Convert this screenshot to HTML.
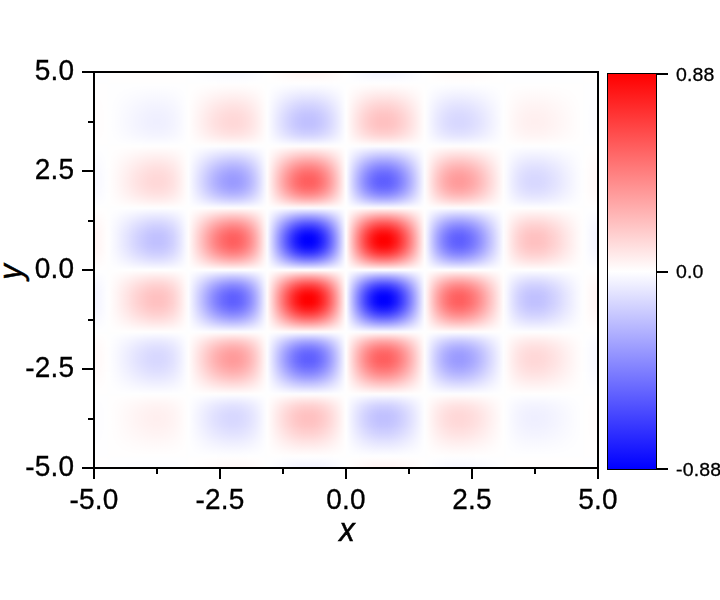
<!DOCTYPE html>
<html><head><meta charset="utf-8">
<style>
html,body{margin:0;padding:0;background:#fff;}
body{width:720px;height:600px;position:relative;overflow:hidden;font-family:"Liberation Sans",sans-serif;color:#000;}
.xl,.yl{-webkit-text-stroke:0.3px #000;}
.cl{-webkit-text-stroke:0.3px #000;}
#xt,#yt{-webkit-text-stroke:0.5px #000;}
#heat{position:absolute;left:94px;top:72px;width:504px;height:396px;isolation:isolate;background:#000;overflow:hidden;}
#heat>div{position:absolute;left:0;top:0;width:100%;height:100%;}
.grp{isolation:isolate;mix-blend-mode:lighten;}
.grp>div{position:absolute;left:0;top:0;width:100%;height:100%;}
.mul{mix-blend-mode:multiply;}
.dif{background:#fff;mix-blend-mode:difference;}
#frame{position:absolute;left:93px;top:71px;width:506px;height:398px;border:2px solid #000;box-sizing:border-box;}
.t{position:absolute;background:#000;}
.xl{position:absolute;width:100px;text-align:center;font-size:28px;line-height:30px;white-space:nowrap;transform:scaleY(1.05);letter-spacing:0.2px;}
.yl{position:absolute;width:76px;text-align:right;font-size:28px;line-height:30px;white-space:nowrap;transform:scaleY(1.05);letter-spacing:0.2px;}
.h{position:relative;top:1.2px;}
#cb{position:absolute;left:607px;top:73px;width:50px;height:397px;border:1px solid #000;box-sizing:border-box;background:linear-gradient(to bottom,#f00,#fff,#00f);}
.cl{position:absolute;font-size:19.5px;line-height:24px;white-space:nowrap;transform:scaleY(0.96);transform-origin:0 50%;letter-spacing:0.15px;}
.ct{position:absolute;left:657px;width:11px;height:2px;background:#000;}
#xt{position:absolute;left:317px;top:512px;width:60px;text-align:center;font-size:31px;font-style:italic;line-height:36px;transform:scaleY(1.08);}
#yt{position:absolute;left:-19px;top:253.5px;width:60px;text-align:center;font-size:31px;font-style:italic;line-height:36px;transform:rotate(-90deg) scaleY(1.08);}
</style></head><body>
<div id="heat">
<div class="grp"><div style="background:linear-gradient(to right,rgb(0,12,12) 0.00%,rgb(0,10,10) 0.62%,rgb(0,8,8) 1.25%,rgb(0,5,5) 1.88%,rgb(0,2,2) 2.50%,rgb(2,2,0) 3.12%,rgb(6,6,0) 3.75%,rgb(10,10,0) 4.38%,rgb(15,15,0) 5.00%,rgb(20,20,0) 5.62%,rgb(25,25,0) 6.25%,rgb(30,30,0) 6.88%,rgb(36,36,0) 7.50%,rgb(41,41,0) 8.12%,rgb(46,46,0) 8.75%,rgb(50,50,0) 9.38%,rgb(54,54,0) 10.00%,rgb(58,58,0) 10.62%,rgb(60,60,0) 11.25%,rgb(62,62,0) 11.88%,rgb(62,62,0) 12.50%,rgb(62,62,0) 13.12%,rgb(60,60,0) 13.75%,rgb(57,57,0) 14.38%,rgb(52,52,0) 15.00%,rgb(47,47,0) 15.62%,rgb(39,39,0) 16.25%,rgb(30,30,0) 16.88%,rgb(20,20,0) 17.50%,rgb(9,9,0) 18.12%,rgb(0,3,3) 18.75%,rgb(0,17,17) 19.38%,rgb(0,31,31) 20.00%,rgb(0,46,46) 20.62%,rgb(0,60,60) 21.25%,rgb(0,75,75) 21.88%,rgb(0,90,90) 22.50%,rgb(0,104,104) 23.12%,rgb(0,117,117) 23.75%,rgb(0,129,129) 24.38%,rgb(0,139,139) 25.00%,rgb(0,148,148) 25.62%,rgb(0,154,154) 26.25%,rgb(0,159,159) 26.88%,rgb(0,160,160) 27.50%,rgb(0,159,159) 28.12%,rgb(0,155,155) 28.75%,rgb(0,148,148) 29.38%,rgb(0,138,138) 30.00%,rgb(0,125,125) 30.62%,rgb(0,109,109) 31.25%,rgb(0,91,91) 31.88%,rgb(0,70,70) 32.50%,rgb(0,47,47) 33.12%,rgb(0,23,23) 33.75%,rgb(4,4,0) 34.38%,rgb(31,31,0) 35.00%,rgb(58,58,0) 35.62%,rgb(86,86,0) 36.25%,rgb(113,113,0) 36.88%,rgb(139,139,0) 37.50%,rgb(164,164,0) 38.12%,rgb(186,186,0) 38.75%,rgb(206,206,0) 39.38%,rgb(224,224,0) 40.00%,rgb(237,237,0) 40.62%,rgb(248,248,0) 41.25%,rgb(254,254,0) 41.88%,rgb(255,255,0) 42.50%,rgb(254,254,0) 43.12%,rgb(248,248,0) 43.75%,rgb(238,238,0) 44.38%,rgb(223,223,0) 45.00%,rgb(205,205,0) 45.62%,rgb(183,183,0) 46.25%,rgb(157,157,0) 46.88%,rgb(129,129,0) 47.50%,rgb(99,99,0) 48.12%,rgb(67,67,0) 48.75%,rgb(34,34,0) 49.38%,rgb(0,0,0) 50.00%,rgb(0,34,34) 50.62%,rgb(0,67,67) 51.25%,rgb(0,99,99) 51.88%,rgb(0,129,129) 52.50%,rgb(0,157,157) 53.12%,rgb(0,183,183) 53.75%,rgb(0,205,205) 54.38%,rgb(0,223,223) 55.00%,rgb(0,238,238) 55.62%,rgb(0,248,248) 56.25%,rgb(0,254,254) 56.88%,rgb(0,255,255) 57.50%,rgb(0,254,254) 58.12%,rgb(0,248,248) 58.75%,rgb(0,237,237) 59.38%,rgb(0,224,224) 60.00%,rgb(0,206,206) 60.62%,rgb(0,186,186) 61.25%,rgb(0,164,164) 61.88%,rgb(0,139,139) 62.50%,rgb(0,113,113) 63.12%,rgb(0,86,86) 63.75%,rgb(0,58,58) 64.38%,rgb(0,31,31) 65.00%,rgb(0,4,4) 65.62%,rgb(23,23,0) 66.25%,rgb(47,47,0) 66.88%,rgb(70,70,0) 67.50%,rgb(91,91,0) 68.12%,rgb(109,109,0) 68.75%,rgb(125,125,0) 69.38%,rgb(138,138,0) 70.00%,rgb(148,148,0) 70.62%,rgb(155,155,0) 71.25%,rgb(159,159,0) 71.88%,rgb(160,160,0) 72.50%,rgb(159,159,0) 73.12%,rgb(154,154,0) 73.75%,rgb(148,148,0) 74.38%,rgb(139,139,0) 75.00%,rgb(129,129,0) 75.62%,rgb(117,117,0) 76.25%,rgb(104,104,0) 76.88%,rgb(90,90,0) 77.50%,rgb(75,75,0) 78.12%,rgb(60,60,0) 78.75%,rgb(46,46,0) 79.38%,rgb(31,31,0) 80.00%,rgb(17,17,0) 80.62%,rgb(3,3,0) 81.25%,rgb(0,9,9) 81.88%,rgb(0,20,20) 82.50%,rgb(0,30,30) 83.12%,rgb(0,39,39) 83.75%,rgb(0,47,47) 84.38%,rgb(0,52,52) 85.00%,rgb(0,57,57) 85.62%,rgb(0,60,60) 86.25%,rgb(0,62,62) 86.88%,rgb(0,62,62) 87.50%,rgb(0,62,62) 88.12%,rgb(0,60,60) 88.75%,rgb(0,58,58) 89.38%,rgb(0,54,54) 90.00%,rgb(0,50,50) 90.62%,rgb(0,46,46) 91.25%,rgb(0,41,41) 91.88%,rgb(0,36,36) 92.50%,rgb(0,30,30) 93.12%,rgb(0,25,25) 93.75%,rgb(0,20,20) 94.38%,rgb(0,15,15) 95.00%,rgb(0,10,10) 95.62%,rgb(0,6,6) 96.25%,rgb(0,2,2) 96.88%,rgb(2,2,0) 97.50%,rgb(5,5,0) 98.12%,rgb(8,8,0) 98.75%,rgb(10,10,0) 99.38%,rgb(12,12,0) 100.00%)"></div><div class="mul" style="background:linear-gradient(to bottom,rgb(0,12,0) 0.00%,rgb(0,10,0) 0.62%,rgb(0,8,0) 1.25%,rgb(0,5,0) 1.88%,rgb(0,2,0) 2.50%,rgb(2,2,2) 3.12%,rgb(6,6,6) 3.75%,rgb(10,10,10) 4.38%,rgb(15,15,15) 5.00%,rgb(20,20,20) 5.62%,rgb(25,25,25) 6.25%,rgb(30,30,30) 6.88%,rgb(36,36,36) 7.50%,rgb(41,41,41) 8.12%,rgb(46,46,46) 8.75%,rgb(50,50,50) 9.38%,rgb(54,54,54) 10.00%,rgb(58,58,58) 10.62%,rgb(60,60,60) 11.25%,rgb(62,62,62) 11.88%,rgb(62,62,62) 12.50%,rgb(62,62,62) 13.12%,rgb(60,60,60) 13.75%,rgb(57,57,57) 14.38%,rgb(52,52,52) 15.00%,rgb(47,47,47) 15.62%,rgb(39,39,39) 16.25%,rgb(30,30,30) 16.88%,rgb(20,20,20) 17.50%,rgb(9,9,9) 18.12%,rgb(0,3,0) 18.75%,rgb(0,17,0) 19.38%,rgb(0,31,0) 20.00%,rgb(0,46,0) 20.62%,rgb(0,60,0) 21.25%,rgb(0,75,0) 21.88%,rgb(0,90,0) 22.50%,rgb(0,104,0) 23.12%,rgb(0,117,0) 23.75%,rgb(0,129,0) 24.38%,rgb(0,139,0) 25.00%,rgb(0,148,0) 25.62%,rgb(0,154,0) 26.25%,rgb(0,159,0) 26.88%,rgb(0,160,0) 27.50%,rgb(0,159,0) 28.12%,rgb(0,155,0) 28.75%,rgb(0,148,0) 29.38%,rgb(0,138,0) 30.00%,rgb(0,125,0) 30.62%,rgb(0,109,0) 31.25%,rgb(0,91,0) 31.88%,rgb(0,70,0) 32.50%,rgb(0,47,0) 33.12%,rgb(0,23,0) 33.75%,rgb(4,4,4) 34.38%,rgb(31,31,31) 35.00%,rgb(58,58,58) 35.62%,rgb(86,86,86) 36.25%,rgb(113,113,113) 36.88%,rgb(139,139,139) 37.50%,rgb(164,164,164) 38.12%,rgb(186,186,186) 38.75%,rgb(206,206,206) 39.38%,rgb(224,224,224) 40.00%,rgb(237,237,237) 40.62%,rgb(248,248,248) 41.25%,rgb(254,254,254) 41.88%,rgb(255,255,255) 42.50%,rgb(254,254,254) 43.12%,rgb(248,248,248) 43.75%,rgb(238,238,238) 44.38%,rgb(223,223,223) 45.00%,rgb(205,205,205) 45.62%,rgb(183,183,183) 46.25%,rgb(157,157,157) 46.88%,rgb(129,129,129) 47.50%,rgb(99,99,99) 48.12%,rgb(67,67,67) 48.75%,rgb(34,34,34) 49.38%,rgb(0,0,0) 50.00%,rgb(0,34,0) 50.62%,rgb(0,67,0) 51.25%,rgb(0,99,0) 51.88%,rgb(0,129,0) 52.50%,rgb(0,157,0) 53.12%,rgb(0,183,0) 53.75%,rgb(0,205,0) 54.38%,rgb(0,223,0) 55.00%,rgb(0,238,0) 55.62%,rgb(0,248,0) 56.25%,rgb(0,254,0) 56.88%,rgb(0,255,0) 57.50%,rgb(0,254,0) 58.12%,rgb(0,248,0) 58.75%,rgb(0,237,0) 59.38%,rgb(0,224,0) 60.00%,rgb(0,206,0) 60.62%,rgb(0,186,0) 61.25%,rgb(0,164,0) 61.88%,rgb(0,139,0) 62.50%,rgb(0,113,0) 63.12%,rgb(0,86,0) 63.75%,rgb(0,58,0) 64.38%,rgb(0,31,0) 65.00%,rgb(0,4,0) 65.62%,rgb(23,23,23) 66.25%,rgb(47,47,47) 66.88%,rgb(70,70,70) 67.50%,rgb(91,91,91) 68.12%,rgb(109,109,109) 68.75%,rgb(125,125,125) 69.38%,rgb(138,138,138) 70.00%,rgb(148,148,148) 70.62%,rgb(155,155,155) 71.25%,rgb(159,159,159) 71.88%,rgb(160,160,160) 72.50%,rgb(159,159,159) 73.12%,rgb(154,154,154) 73.75%,rgb(148,148,148) 74.38%,rgb(139,139,139) 75.00%,rgb(129,129,129) 75.62%,rgb(117,117,117) 76.25%,rgb(104,104,104) 76.88%,rgb(90,90,90) 77.50%,rgb(75,75,75) 78.12%,rgb(60,60,60) 78.75%,rgb(46,46,46) 79.38%,rgb(31,31,31) 80.00%,rgb(17,17,17) 80.62%,rgb(3,3,3) 81.25%,rgb(0,9,0) 81.88%,rgb(0,20,0) 82.50%,rgb(0,30,0) 83.12%,rgb(0,39,0) 83.75%,rgb(0,47,0) 84.38%,rgb(0,52,0) 85.00%,rgb(0,57,0) 85.62%,rgb(0,60,0) 86.25%,rgb(0,62,0) 86.88%,rgb(0,62,0) 87.50%,rgb(0,62,0) 88.12%,rgb(0,60,0) 88.75%,rgb(0,58,0) 89.38%,rgb(0,54,0) 90.00%,rgb(0,50,0) 90.62%,rgb(0,46,0) 91.25%,rgb(0,41,0) 91.88%,rgb(0,36,0) 92.50%,rgb(0,30,0) 93.12%,rgb(0,25,0) 93.75%,rgb(0,20,0) 94.38%,rgb(0,15,0) 95.00%,rgb(0,10,0) 95.62%,rgb(0,6,0) 96.25%,rgb(0,2,0) 96.88%,rgb(2,2,2) 97.50%,rgb(5,5,5) 98.12%,rgb(8,8,8) 98.75%,rgb(10,10,10) 99.38%,rgb(12,12,12) 100.00%)"></div></div>
<div class="grp"><div style="background:linear-gradient(to right,rgb(12,0,0) 0.00%,rgb(10,0,0) 0.62%,rgb(8,0,0) 1.25%,rgb(5,0,0) 1.88%,rgb(2,0,0) 2.50%,rgb(0,0,2) 3.12%,rgb(0,0,6) 3.75%,rgb(0,0,10) 4.38%,rgb(0,0,15) 5.00%,rgb(0,0,20) 5.62%,rgb(0,0,25) 6.25%,rgb(0,0,30) 6.88%,rgb(0,0,36) 7.50%,rgb(0,0,41) 8.12%,rgb(0,0,46) 8.75%,rgb(0,0,50) 9.38%,rgb(0,0,54) 10.00%,rgb(0,0,58) 10.62%,rgb(0,0,60) 11.25%,rgb(0,0,62) 11.88%,rgb(0,0,62) 12.50%,rgb(0,0,62) 13.12%,rgb(0,0,60) 13.75%,rgb(0,0,57) 14.38%,rgb(0,0,52) 15.00%,rgb(0,0,47) 15.62%,rgb(0,0,39) 16.25%,rgb(0,0,30) 16.88%,rgb(0,0,20) 17.50%,rgb(0,0,9) 18.12%,rgb(3,0,0) 18.75%,rgb(17,0,0) 19.38%,rgb(31,0,0) 20.00%,rgb(46,0,0) 20.62%,rgb(60,0,0) 21.25%,rgb(75,0,0) 21.88%,rgb(90,0,0) 22.50%,rgb(104,0,0) 23.12%,rgb(117,0,0) 23.75%,rgb(129,0,0) 24.38%,rgb(139,0,0) 25.00%,rgb(148,0,0) 25.62%,rgb(154,0,0) 26.25%,rgb(159,0,0) 26.88%,rgb(160,0,0) 27.50%,rgb(159,0,0) 28.12%,rgb(155,0,0) 28.75%,rgb(148,0,0) 29.38%,rgb(138,0,0) 30.00%,rgb(125,0,0) 30.62%,rgb(109,0,0) 31.25%,rgb(91,0,0) 31.88%,rgb(70,0,0) 32.50%,rgb(47,0,0) 33.12%,rgb(23,0,0) 33.75%,rgb(0,0,4) 34.38%,rgb(0,0,31) 35.00%,rgb(0,0,58) 35.62%,rgb(0,0,86) 36.25%,rgb(0,0,113) 36.88%,rgb(0,0,139) 37.50%,rgb(0,0,164) 38.12%,rgb(0,0,186) 38.75%,rgb(0,0,206) 39.38%,rgb(0,0,224) 40.00%,rgb(0,0,237) 40.62%,rgb(0,0,248) 41.25%,rgb(0,0,254) 41.88%,rgb(0,0,255) 42.50%,rgb(0,0,254) 43.12%,rgb(0,0,248) 43.75%,rgb(0,0,238) 44.38%,rgb(0,0,223) 45.00%,rgb(0,0,205) 45.62%,rgb(0,0,183) 46.25%,rgb(0,0,157) 46.88%,rgb(0,0,129) 47.50%,rgb(0,0,99) 48.12%,rgb(0,0,67) 48.75%,rgb(0,0,34) 49.38%,rgb(0,0,0) 50.00%,rgb(34,0,0) 50.62%,rgb(67,0,0) 51.25%,rgb(99,0,0) 51.88%,rgb(129,0,0) 52.50%,rgb(157,0,0) 53.12%,rgb(183,0,0) 53.75%,rgb(205,0,0) 54.38%,rgb(223,0,0) 55.00%,rgb(238,0,0) 55.62%,rgb(248,0,0) 56.25%,rgb(254,0,0) 56.88%,rgb(255,0,0) 57.50%,rgb(254,0,0) 58.12%,rgb(248,0,0) 58.75%,rgb(237,0,0) 59.38%,rgb(224,0,0) 60.00%,rgb(206,0,0) 60.62%,rgb(186,0,0) 61.25%,rgb(164,0,0) 61.88%,rgb(139,0,0) 62.50%,rgb(113,0,0) 63.12%,rgb(86,0,0) 63.75%,rgb(58,0,0) 64.38%,rgb(31,0,0) 65.00%,rgb(4,0,0) 65.62%,rgb(0,0,23) 66.25%,rgb(0,0,47) 66.88%,rgb(0,0,70) 67.50%,rgb(0,0,91) 68.12%,rgb(0,0,109) 68.75%,rgb(0,0,125) 69.38%,rgb(0,0,138) 70.00%,rgb(0,0,148) 70.62%,rgb(0,0,155) 71.25%,rgb(0,0,159) 71.88%,rgb(0,0,160) 72.50%,rgb(0,0,159) 73.12%,rgb(0,0,154) 73.75%,rgb(0,0,148) 74.38%,rgb(0,0,139) 75.00%,rgb(0,0,129) 75.62%,rgb(0,0,117) 76.25%,rgb(0,0,104) 76.88%,rgb(0,0,90) 77.50%,rgb(0,0,75) 78.12%,rgb(0,0,60) 78.75%,rgb(0,0,46) 79.38%,rgb(0,0,31) 80.00%,rgb(0,0,17) 80.62%,rgb(0,0,3) 81.25%,rgb(9,0,0) 81.88%,rgb(20,0,0) 82.50%,rgb(30,0,0) 83.12%,rgb(39,0,0) 83.75%,rgb(47,0,0) 84.38%,rgb(52,0,0) 85.00%,rgb(57,0,0) 85.62%,rgb(60,0,0) 86.25%,rgb(62,0,0) 86.88%,rgb(62,0,0) 87.50%,rgb(62,0,0) 88.12%,rgb(60,0,0) 88.75%,rgb(58,0,0) 89.38%,rgb(54,0,0) 90.00%,rgb(50,0,0) 90.62%,rgb(46,0,0) 91.25%,rgb(41,0,0) 91.88%,rgb(36,0,0) 92.50%,rgb(30,0,0) 93.12%,rgb(25,0,0) 93.75%,rgb(20,0,0) 94.38%,rgb(15,0,0) 95.00%,rgb(10,0,0) 95.62%,rgb(6,0,0) 96.25%,rgb(2,0,0) 96.88%,rgb(0,0,2) 97.50%,rgb(0,0,5) 98.12%,rgb(0,0,8) 98.75%,rgb(0,0,10) 99.38%,rgb(0,0,12) 100.00%)"></div><div class="mul" style="background:linear-gradient(to bottom,rgb(12,0,12) 0.00%,rgb(10,0,10) 0.62%,rgb(8,0,8) 1.25%,rgb(5,0,5) 1.88%,rgb(2,0,2) 2.50%,rgb(0,0,0) 3.12%,rgb(0,0,0) 3.75%,rgb(0,0,0) 4.38%,rgb(0,0,0) 5.00%,rgb(0,0,0) 5.62%,rgb(0,0,0) 6.25%,rgb(0,0,0) 6.88%,rgb(0,0,0) 7.50%,rgb(0,0,0) 8.12%,rgb(0,0,0) 8.75%,rgb(0,0,0) 9.38%,rgb(0,0,0) 10.00%,rgb(0,0,0) 10.62%,rgb(0,0,0) 11.25%,rgb(0,0,0) 11.88%,rgb(0,0,0) 12.50%,rgb(0,0,0) 13.12%,rgb(0,0,0) 13.75%,rgb(0,0,0) 14.38%,rgb(0,0,0) 15.00%,rgb(0,0,0) 15.62%,rgb(0,0,0) 16.25%,rgb(0,0,0) 16.88%,rgb(0,0,0) 17.50%,rgb(0,0,0) 18.12%,rgb(3,0,3) 18.75%,rgb(17,0,17) 19.38%,rgb(31,0,31) 20.00%,rgb(46,0,46) 20.62%,rgb(60,0,60) 21.25%,rgb(75,0,75) 21.88%,rgb(90,0,90) 22.50%,rgb(104,0,104) 23.12%,rgb(117,0,117) 23.75%,rgb(129,0,129) 24.38%,rgb(139,0,139) 25.00%,rgb(148,0,148) 25.62%,rgb(154,0,154) 26.25%,rgb(159,0,159) 26.88%,rgb(160,0,160) 27.50%,rgb(159,0,159) 28.12%,rgb(155,0,155) 28.75%,rgb(148,0,148) 29.38%,rgb(138,0,138) 30.00%,rgb(125,0,125) 30.62%,rgb(109,0,109) 31.25%,rgb(91,0,91) 31.88%,rgb(70,0,70) 32.50%,rgb(47,0,47) 33.12%,rgb(23,0,23) 33.75%,rgb(0,0,0) 34.38%,rgb(0,0,0) 35.00%,rgb(0,0,0) 35.62%,rgb(0,0,0) 36.25%,rgb(0,0,0) 36.88%,rgb(0,0,0) 37.50%,rgb(0,0,0) 38.12%,rgb(0,0,0) 38.75%,rgb(0,0,0) 39.38%,rgb(0,0,0) 40.00%,rgb(0,0,0) 40.62%,rgb(0,0,0) 41.25%,rgb(0,0,0) 41.88%,rgb(0,0,0) 42.50%,rgb(0,0,0) 43.12%,rgb(0,0,0) 43.75%,rgb(0,0,0) 44.38%,rgb(0,0,0) 45.00%,rgb(0,0,0) 45.62%,rgb(0,0,0) 46.25%,rgb(0,0,0) 46.88%,rgb(0,0,0) 47.50%,rgb(0,0,0) 48.12%,rgb(0,0,0) 48.75%,rgb(0,0,0) 49.38%,rgb(0,0,0) 50.00%,rgb(34,0,34) 50.62%,rgb(67,0,67) 51.25%,rgb(99,0,99) 51.88%,rgb(129,0,129) 52.50%,rgb(157,0,157) 53.12%,rgb(183,0,183) 53.75%,rgb(205,0,205) 54.38%,rgb(223,0,223) 55.00%,rgb(238,0,238) 55.62%,rgb(248,0,248) 56.25%,rgb(254,0,254) 56.88%,rgb(255,0,255) 57.50%,rgb(254,0,254) 58.12%,rgb(248,0,248) 58.75%,rgb(237,0,237) 59.38%,rgb(224,0,224) 60.00%,rgb(206,0,206) 60.62%,rgb(186,0,186) 61.25%,rgb(164,0,164) 61.88%,rgb(139,0,139) 62.50%,rgb(113,0,113) 63.12%,rgb(86,0,86) 63.75%,rgb(58,0,58) 64.38%,rgb(31,0,31) 65.00%,rgb(4,0,4) 65.62%,rgb(0,0,0) 66.25%,rgb(0,0,0) 66.88%,rgb(0,0,0) 67.50%,rgb(0,0,0) 68.12%,rgb(0,0,0) 68.75%,rgb(0,0,0) 69.38%,rgb(0,0,0) 70.00%,rgb(0,0,0) 70.62%,rgb(0,0,0) 71.25%,rgb(0,0,0) 71.88%,rgb(0,0,0) 72.50%,rgb(0,0,0) 73.12%,rgb(0,0,0) 73.75%,rgb(0,0,0) 74.38%,rgb(0,0,0) 75.00%,rgb(0,0,0) 75.62%,rgb(0,0,0) 76.25%,rgb(0,0,0) 76.88%,rgb(0,0,0) 77.50%,rgb(0,0,0) 78.12%,rgb(0,0,0) 78.75%,rgb(0,0,0) 79.38%,rgb(0,0,0) 80.00%,rgb(0,0,0) 80.62%,rgb(0,0,0) 81.25%,rgb(9,0,9) 81.88%,rgb(20,0,20) 82.50%,rgb(30,0,30) 83.12%,rgb(39,0,39) 83.75%,rgb(47,0,47) 84.38%,rgb(52,0,52) 85.00%,rgb(57,0,57) 85.62%,rgb(60,0,60) 86.25%,rgb(62,0,62) 86.88%,rgb(62,0,62) 87.50%,rgb(62,0,62) 88.12%,rgb(60,0,60) 88.75%,rgb(58,0,58) 89.38%,rgb(54,0,54) 90.00%,rgb(50,0,50) 90.62%,rgb(46,0,46) 91.25%,rgb(41,0,41) 91.88%,rgb(36,0,36) 92.50%,rgb(30,0,30) 93.12%,rgb(25,0,25) 93.75%,rgb(20,0,20) 94.38%,rgb(15,0,15) 95.00%,rgb(10,0,10) 95.62%,rgb(6,0,6) 96.25%,rgb(2,0,2) 96.88%,rgb(0,0,0) 97.50%,rgb(0,0,0) 98.12%,rgb(0,0,0) 98.75%,rgb(0,0,0) 99.38%,rgb(0,0,0) 100.00%)"></div></div>
<div class="dif"></div>
</div>
<div id="frame"></div>
<div class="t" style="left:93px;top:469px;width:2px;height:10px"></div>
<div class="t" style="left:219px;top:469px;width:2px;height:10px"></div>
<div class="t" style="left:345px;top:469px;width:2px;height:10px"></div>
<div class="t" style="left:471px;top:469px;width:2px;height:10px"></div>
<div class="t" style="left:597px;top:469px;width:2px;height:10px"></div>
<div class="t" style="left:156px;top:469px;width:2px;height:5px"></div>
<div class="t" style="left:282px;top:469px;width:2px;height:5px"></div>
<div class="t" style="left:408px;top:469px;width:2px;height:5px"></div>
<div class="t" style="left:534px;top:469px;width:2px;height:5px"></div>
<div class="t" style="left:82px;top:467px;width:11px;height:2px"></div>
<div class="t" style="left:82px;top:368px;width:11px;height:2px"></div>
<div class="t" style="left:82px;top:269px;width:11px;height:2px"></div>
<div class="t" style="left:82px;top:170px;width:11px;height:2px"></div>
<div class="t" style="left:82px;top:71px;width:11px;height:2px"></div>
<div class="t" style="left:88px;top:417.5px;width:5px;height:2px"></div>
<div class="t" style="left:88px;top:318.5px;width:5px;height:2px"></div>
<div class="t" style="left:88px;top:219.5px;width:5px;height:2px"></div>
<div class="t" style="left:88px;top:120.5px;width:5px;height:2px"></div>
<div class="xl" style="left:44px;top:485.2px"><span class="h">-</span>5.0</div>
<div class="xl" style="left:170px;top:485.2px"><span class="h">-</span>2.5</div>
<div class="xl" style="left:296px;top:485.2px">0.0</div>
<div class="xl" style="left:422px;top:485.2px">2.5</div>
<div class="xl" style="left:548px;top:485.2px">5.0</div>
<div class="yl" style="left:-1.7px;top:451.5px"><span class="h">-</span>5.0</div>
<div class="yl" style="left:-1.7px;top:352.5px"><span class="h">-</span>2.5</div>
<div class="yl" style="left:-1.7px;top:253.5px">0.0</div>
<div class="yl" style="left:-1.7px;top:154.5px">2.5</div>
<div class="yl" style="left:-1.7px;top:55.5px">5.0</div>
<div id="cb"></div>
<div class="ct" style="top:73px"></div>
<div class="ct" style="top:271px"></div>
<div class="ct" style="top:468px"></div>
<div class="cl" style="left:676px;top:61.6px">0.88</div>
<div class="cl" style="left:676px;top:258.6px">0.0</div>
<div class="cl" style="left:676px;top:456.6px">-0.88</div>
<div id="xt">x</div>
<div id="yt">y</div>
</body></html>
